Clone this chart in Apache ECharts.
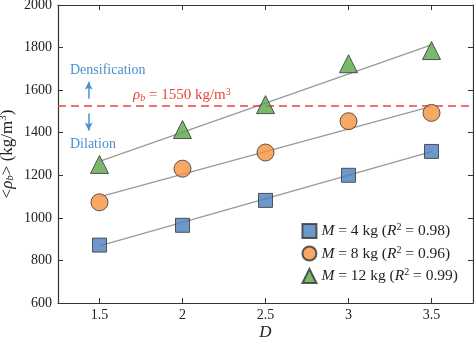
<!DOCTYPE html>
<html>
<head>
<meta charset="utf-8">
<script src="https://cdn.jsdelivr.net/npm/echarts@6/dist/echarts.min.js"></script>
<style>
  html, body { margin: 0; padding: 0; background: #fff; }
  #chart { width: 474px; height: 341px; }
</style>
</head>
<body>
<div id="chart"></div>
<script>
const dValues = [1.5, 2, 2.5, 3, 3.5];
const rho4 = [872, 965, 1082, 1200, 1312];
const rho8 = [1073, 1231, 1307, 1454, 1493];
const rho12 = [1251, 1415, 1532, 1724, 1786];
// fitted line ends at D = 1.5 and D = 3.5
const fit4 = [868, 1311];
const fit8 = [1098, 1524];
const fit12 = [1265, 1813];
const masses = [4, 8, 12];
const rSquared = ['0.98', '0.96', '0.99'];
const refDensity = 1525;
const yTicks = [600, 800, 1000, 1200, 1400, 1600, 1800, 2000];

const serif = '"Liberation Serif", "DejaVu Serif", serif';
const colors = ['#4a7ebb', '#f5923e', '#5aa64a'];
const symbols = ['rect', 'circle', 'triangle'];
const sizes = [14, 17, 18];

const pairs = (ys) => dValues.map((d, i) => [d, ys[i]]);
const fitLine = (f) => [[dValues[0], f[0]], [dValues[dValues.length - 1], f[1]]];

const names = masses.map((m) => 'M = ' + m + ' kg');
const scatter = [rho4, rho8, rho12].map((ys, i) => ({
  name: names[i],
  type: 'scatter',
  data: pairs(ys),
  symbol: symbols[i],
  symbolSize: sizes[i],
  itemStyle: { color: colors[i], borderColor: '#333', borderWidth: 1 },
  z: 5
}));
const fits = [fit4, fit8, fit12].map((f) => ({
  type: 'line',
  data: fitLine(f),
  symbol: 'none',
  lineStyle: { color: '#999', width: 1.3 },
  silent: true,
  z: 3
}));

const arrowX = 1.435;
const guide = {
  type: 'line',
  data: [],
  silent: true,
  markLine: {
    silent: true,
    symbol: 'none',
    label: { show: false },
    data: [
      [{ coord: [1.25, refDensity] }, { coord: [3.75, refDensity] }],
      [{ coord: [arrowX, 1560], symbol: 'none' }, { coord: [arrowX, 1640], symbol: 'arrow', symbolSize: [6, 8] }],
      [{ coord: [arrowX, 1490], symbol: 'none' }, { coord: [arrowX, 1410], symbol: 'arrow', symbolSize: [6, 8] }]
    ].map((d, i) => {
      d[0].lineStyle = i === 0
        ? { color: '#e8453c', type: [8, 5], width: 1.6 }
        : { color: '#4a90cf', type: 'solid', width: 1.5 };
      return d;
    })
  }
};

const chart = echarts.init(document.getElementById('chart'));
chart.setOption({
  animation: false,
  backgroundColor: '#fff',
  grid: { left: 58, right: 1, top: 5, bottom: 38, outerBoundsMode: 'none', containLabel: false },
  legend: {
    data: names,
    orient: 'vertical',
    right: 11,
    bottom: 52,
    itemGap: 6,
    itemWidth: 14,
    itemHeight: 14,
    textStyle: {
      fontFamily: serif,
      fontSize: 15.5,
      color: '#222',
      rich: {
        i: { fontFamily: serif, fontSize: 15.5, fontStyle: 'italic', color: '#222' },
        sup: { fontFamily: serif, fontSize: 10, color: '#222', padding: [0, 0, 7, 0] }
      }
    },
    formatter: (name) => {
      const i = names.indexOf(name);
      return '{i|M} = ' + masses[i] + ' kg ({i|R}{sup|2} = ' + rSquared[i] + ')';
    }
  },
  xAxis: [
    {
      type: 'value', min: 1.25, max: 3.75, interval: 0.25,
      name: 'D', nameLocation: 'middle', nameGap: 21, nameMoveOverlap: false,
      nameTextStyle: { fontFamily: serif, fontSize: 17, fontStyle: 'italic', color: '#222' },
      axisLine: { lineStyle: { color: '#333', width: 1.2 } },
      axisTick: { inside: true, length: 5, lineStyle: { color: '#333' },
        customValues: dValues },
      axisLabel: { fontFamily: serif, fontSize: 14, color: '#222', margin: 5,
        customValues: dValues, formatter: (v) => String(v) },
      splitLine: { show: false }
    },
    {
      type: 'value', min: 1.25, max: 3.75, position: 'top',
      axisLine: { lineStyle: { color: '#333', width: 1.2 } },
      axisTick: { inside: true, length: 5, lineStyle: { color: '#333' }, customValues: dValues },
      axisLabel: { show: false },
      splitLine: { show: false }
    }
  ],
  yAxis: [
    {
      type: 'value', min: 600, max: 2000, interval: 200,
      name: '<{i|ρ}{sub|b}> (kg/m{sup|3})', nameLocation: 'middle', nameGap: 41,
      nameMoveOverlap: false,
      nameTextStyle: {
        fontFamily: serif, fontSize: 17, color: '#222',
        rich: {
          i: { fontFamily: serif, fontSize: 17, fontStyle: 'italic', color: '#222' },
          sub: { fontFamily: serif, fontSize: 11, fontStyle: 'italic', color: '#222', padding: [6, 0, 0, 0] },
          sup: { fontFamily: serif, fontSize: 11, color: '#222', padding: [0, 0, 8, 0] }
        }
      },
      axisLine: { show: true, lineStyle: { color: '#333', width: 1.2 } },
      axisTick: { show: true, inside: true, length: 5, lineStyle: { color: '#333' } },
      axisLabel: { fontFamily: serif, fontSize: 14, color: '#222', margin: 6,
        customValues: yTicks, formatter: (v) => String(v) },
      splitLine: { show: false }
    },
    {
      type: 'value', min: 600, max: 2000, interval: 200, position: 'right',
      axisLine: { show: true, lineStyle: { color: '#333', width: 1.2 } },
      axisTick: { show: true, inside: true, length: 5, lineStyle: { color: '#333' } },
      axisLabel: { show: false },
      splitLine: { show: false }
    }
  ],
  graphic: [
    { type: 'text', left: 70, top: 63,
      style: { text: 'Densification', fill: '#4a90cf', font: '14px ' + serif } },
    { type: 'text', left: 70, top: 137,
      style: { text: 'Dilation', fill: '#4a90cf', font: '14px ' + serif } },
    { type: 'text', left: 133, top: 87,
      style: {
        text: '{i|ρ}{sub|b} = 1550 kg/m{sup|3}',
        fill: '#e8453c', font: '15px ' + serif,
        rich: {
          i: { fontFamily: serif, fontSize: 15, fontStyle: 'italic', color: '#e8453c' },
          sub: { fontFamily: serif, fontSize: 10, fontStyle: 'italic', color: '#e8453c', padding: [6, 0, 0, 0] },
          sup: { fontFamily: serif, fontSize: 10, color: '#e8453c', padding: [0, 0, 7, 0] }
        }
      } }
  ],
  series: [guide, ...fits, ...scatter]
});
</script>
</body>
</html>
